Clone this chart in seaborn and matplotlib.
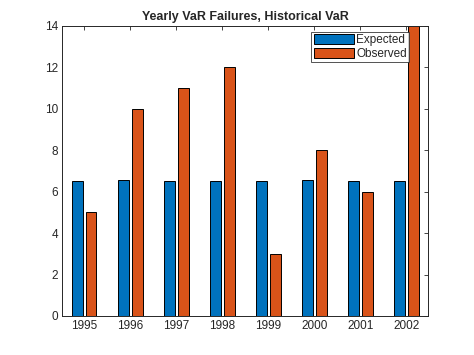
import pandas as pd
import matplotlib
matplotlib.use("Agg")
import matplotlib.pyplot as plt
import seaborn as sns

years = ["1995", "1996", "1997", "1998", "1999", "2000", "2001", "2002"]
expected = [6.5, 6.55, 6.525, 6.525, 6.525, 6.55, 6.525, 6.525]
observed = [5, 10, 11, 12, 3, 8, 6, 14]

df = pd.DataFrame({
    "Year": years * 2,
    "Failures": expected + observed,
    "Series": ["Expected"] * len(years) + ["Observed"] * len(years),
})

sns.set_style("white")
plt.rcParams["font.family"] = ["Liberation Sans", "DejaVu Sans"]

fig = plt.figure(figsize=(4.74, 3.55), dpi=100)
ax = fig.add_axes([0.131, 0.110, 0.772, 0.817])

sns.barplot(data=df, x="Year", y="Failures", hue="Series",
            palette=["#0072BD", "#D95319"], saturation=1, width=0.6, gap=0.22,
            edgecolor="black", linewidth=0.7, ax=ax)

ax.set_xlim(-0.48, 7.47)
ax.set_ylim(0, 14)
ax.set_yticks(range(0, 15, 2))
ax.set_xlabel("")
ax.set_ylabel("")
ax.set_title("Yearly VaR Failures, Historical VaR", fontsize=9,
             fontweight="bold", pad=4)

for s in ax.spines.values():
    s.set_visible(True)
    s.set_color("#262626")
    s.set_linewidth(0.7)
ax.tick_params(direction="in", top=True, right=True, length=3,
               width=0.6, color="#262626", labelsize=8.5,
               labelcolor="#262626", pad=3)

leg = ax.legend(loc="upper right", bbox_to_anchor=(0.948, 0.979),
                fontsize=8.5, frameon=True, fancybox=False,
                edgecolor="#262626", borderpad=0.2, labelspacing=0.15,
                handlelength=3.4, handleheight=0.9, handletextpad=0.2,
                borderaxespad=0.0)
leg.get_frame().set_linewidth(0.7)

fig.savefig("out.png", dpi=100)
